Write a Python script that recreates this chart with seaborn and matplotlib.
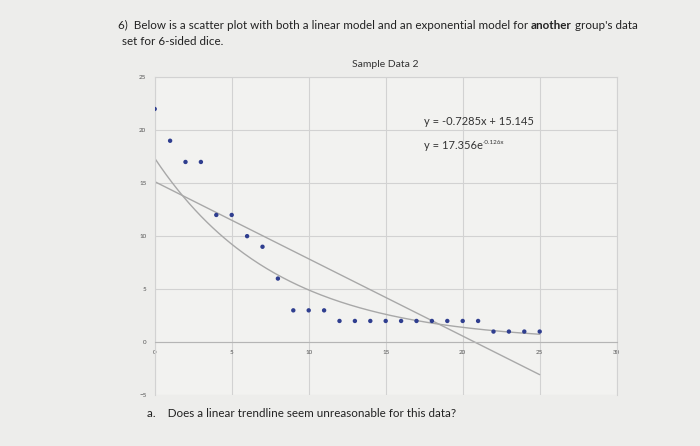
import numpy as np
import pandas as pd
import seaborn as sns
import matplotlib.pyplot as plt

# data
x_vals = list(range(26))
y_vals = [22, 19, 17, 17, 12, 12, 10, 9, 6, 3, 3, 3, 2, 2, 2, 2, 2, 2, 2, 2, 2, 2, 1, 1, 1, 1]
lin_coef = [-0.7285, 15.145]
exp_coef = [17.356, -0.126]

df = pd.DataFrame({"x": x_vals, "y": y_vals})
xs = np.linspace(0, 25, 200)
fit = pd.DataFrame({"x": xs,
                    "lin": lin_coef[0] * xs + lin_coef[1],
                    "exp": exp_coef[0] * np.exp(exp_coef[1] * xs)})

sns.set_style("white")
plt.rcParams['font.family'] = ['Lato', 'DejaVu Sans']
fig = plt.figure(figsize=(7, 4.46), dpi=100)
fig.patch.set_facecolor("#ededeb")

ax = fig.add_axes([0.221, 0.114, 0.66, 0.713])
ax.set_facecolor("#f2f2f0")

# header line, pieces chained to each other
fs = 8.4
t1 = fig.text(0.168, 0.935, "6)  Below is a scatter plot with both a linear model and an exponential model for",
              fontsize=fs, color="#222222")
t2 = ax.annotate("another", xy=(1, 0), xycoords=t1, xytext=(2.3, 0), textcoords="offset points",
                 fontsize=fs, fontweight="bold", color="#222222", va="bottom", annotation_clip=False)
t3 = ax.annotate("group's data", xy=(1, 0), xycoords=t2, xytext=(2.3, 0), textcoords="offset points",
                 fontsize=fs, color="#222222", va="bottom", annotation_clip=False)
fig.text(0.175, 0.900, "set for 6-sided dice.", fontsize=fs, color="#222222")
fig.text(0.21, 0.065, "a.    Does a linear trendline seem unreasonable for this data?",
         fontsize=fs, color="#222222")

sns.lineplot(data=fit, x="x", y="lin", color="#a8a8a8", lw=1, ax=ax)
sns.lineplot(data=fit, x="x", y="exp", color="#a8a8a8", lw=1, ax=ax)
sns.scatterplot(data=df, x="x", y="y", color="#2f3e8f", s=10, edgecolor="none", ax=ax, zorder=3)

ax.set_xlim(0, 30)
ax.set_ylim(-5, 25)
ax.set_xticks(range(0, 31, 5))
ax.set_yticks(range(-5, 26, 5))
ax.grid(True, color="#d2d2d2", lw=0.8)
ax.spines["bottom"].set_position(("data", 0))
for s in ["left", "right", "top"]:
    ax.spines[s].set_color("#d2d2d2")
ax.spines["bottom"].set_color("#b5b5b5")
ax.tick_params(labelsize=4.5, colors="#555555", length=0, pad=6)
ax.set_xlabel("")
ax.set_ylabel("")
ax.set_title("Sample Data 2", fontsize=7.5, color="#333333", pad=7)

ax.text(17.5, 20.5, "y = -0.7285x + 15.145", fontsize=8, color="#333333")
ax.text(17.5, 18.2, "y = 17.356e", fontsize=8, color="#333333")
ax.text(21.3, 18.7, "-0.126x", fontsize=4.5, color="#333333")

fig.savefig("out.png", dpi=100, facecolor=fig.get_facecolor())
